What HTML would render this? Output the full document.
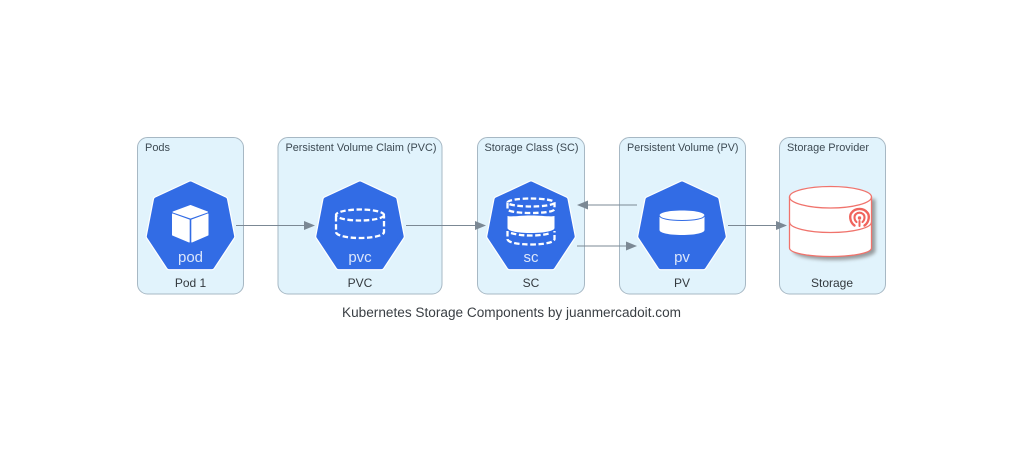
<!DOCTYPE html>
<html><head><meta charset="utf-8"><style>
html,body{margin:0;padding:0;background:#fff;width:1023px;height:454px;overflow:hidden}
svg{display:block}
text{font-family:"Liberation Sans",sans-serif}
.c{fill:#e1f3fc;stroke:#a7b8c4;stroke-width:1}
.cl{font-size:11.2px;fill:#3d4a53}
.nl{font-size:12px;fill:#33393e;text-anchor:middle}
.ko{fill:#fff;stroke:#fff;stroke-width:6.4;stroke-linejoin:round}
.k{fill:#326ce5;stroke:#326ce5;stroke-width:4;stroke-linejoin:round}
.kt{font-size:15px;fill:#dbe6fb;text-anchor:middle}
.e{stroke:#7b8894;stroke-width:1;fill:none}
.ah{fill:#7b8894}
.d{fill:none;stroke:#fff;stroke-width:2.3;stroke-dasharray:5.5 2.6}
</style></head><body>
<svg width="1023" height="454" viewBox="0 0 1023 454" xmlns="http://www.w3.org/2000/svg">
<defs>
<filter id="sh" x="-20%" y="-20%" width="150%" height="150%"><feGaussianBlur stdDeviation="1.8"/></filter>
<path id="hep" d="M0,-42 L34.500,-26 L41.700,11 L21.500,41.600 L-21.500,41.600 L-41.700,11 L-34.500,-26 Z"/>
</defs>

<rect class="c" x="137.5" y="137.5" width="106" height="156.5" rx="10"/>
<rect class="c" x="278" y="137.5" width="164" height="156.5" rx="10"/>
<rect class="c" x="477.5" y="137.5" width="107" height="156.5" rx="10"/>
<rect class="c" x="619.5" y="137.5" width="126" height="156.5" rx="10"/>
<rect class="c" x="779.5" y="137.5" width="106" height="156.5" rx="10"/>

<text class="cl" x="145" y="151" textLength="25" lengthAdjust="spacingAndGlyphs">Pods</text>
<text class="cl" x="285.5" y="151" textLength="151" lengthAdjust="spacingAndGlyphs">Persistent Volume Claim (PVC)</text>
<text class="cl" x="484.5" y="151" textLength="94" lengthAdjust="spacingAndGlyphs">Storage Class (SC)</text>
<text class="cl" x="627" y="151" textLength="111.500" lengthAdjust="spacingAndGlyphs">Persistent Volume (PV)</text>
<text class="cl" x="787" y="151" textLength="82" lengthAdjust="spacingAndGlyphs">Storage Provider</text>

<!-- edges -->
<line class="e" x1="236" y1="225.500" x2="306" y2="225.500"/><path class="ah" d="M304,221 L315,225.500 L304,230 Z"/>
<line class="e" x1="406" y1="225.500" x2="476" y2="225.500"/><path class="ah" d="M475,221 L486,225.500 L475,230 Z"/>
<line class="e" x1="577" y1="246" x2="628" y2="246"/><path class="ah" d="M626,241.500 L637,246 L626,250.500 Z"/>
<line class="e" x1="637" y1="205" x2="586" y2="205"/><path class="ah" d="M588,200.500 L577,205 L588,209.500 Z"/>
<line class="e" x1="728" y1="225.500" x2="778" y2="225.500"/><path class="ah" d="M776,221 L787,225.500 L776,230 Z"/>

<!-- pod -->
<g transform="translate(190.500,225.500)"><use href="#hep" class="ko"/><use href="#hep" class="k"/></g>
<path fill="#fff" stroke="#fff" stroke-width="1" stroke-linejoin="round" d="M190.500,205.500 L207.500,212 L190.500,218 L173,212 Z"/>
<path fill="#fff" stroke="#fff" stroke-width="1" stroke-linejoin="round" d="M172.500,214 L189.200,220 L189.200,242 L172.500,235 Z"/>
<path fill="#fff" stroke="#fff" stroke-width="1" stroke-linejoin="round" d="M208,214 L191.800,220 L191.800,242 L208,235 Z"/>
<text class="kt" x="190.500" y="262">pod</text>

<!-- pvc -->
<g transform="translate(360,225.500)"><use href="#hep" class="ko"/><use href="#hep" class="k"/></g>
<ellipse class="d" cx="360" cy="215" rx="24" ry="5.500"/>
<path class="d" d="M336,216 V232 C336,235.500 347,238 360,238 C373,238 384,235.500 384,232 V216"/>
<text class="kt" x="360" y="262">pvc</text>

<!-- sc -->
<g transform="translate(531,225.500)"><use href="#hep" class="ko"/><use href="#hep" class="k"/></g>
<ellipse class="d" cx="531" cy="202.500" rx="23.500" ry="4"/>
<path class="d" d="M507.500,203 V209 C507.500,211.500 518,213 531,213 C544,213 554.500,211.500 554.500,209 V203"/>
<path fill="#fff" d="M507.500,216 C512,217 520,215.500 531,215.500 C542,215.500 550,217 554.500,216 V228 C554.500,231 544,233 531,233 C518,233 507.500,231 507.500,228 Z"/>
<path class="d" d="M507.500,231 V239 C507.500,242.500 518,244.500 531,244.500 C544,244.500 554.500,242.500 554.500,239 V231"/>
<path class="d" d="M511,233 C516,234.500 522,235.500 531,235.500 C540,235.500 546,234.500 551,233"/>
<text class="kt" x="531" y="262">sc</text>

<!-- pv -->
<g transform="translate(682,225.500)"><use href="#hep" class="ko"/><use href="#hep" class="k"/></g>
<path fill="#fff" d="M659.500,215.500 C659.500,212.500 669,210.500 682,210.500 C695,210.500 704.500,212.500 704.500,215.500 V230 C704.500,233 695,235 682,235 C669,235 659.500,233 659.500,230 Z"/>
<path fill="none" stroke="#326ce5" stroke-width="1" d="M659.500,215.500 C659.500,218.500 669,220.500 682,220.500 C695,220.500 704.500,218.500 704.500,215.500"/>
<text class="kt" x="682" y="262">pv</text>

<!-- cylinder -->
<path d="M793,199 V251 C793,256 810,260 834,260 C858,260 875.500,256 875.500,251 V199 Z" fill="#777" opacity=".7" filter="url(#sh)"/>
<path fill="#fff" stroke="#f0736c" stroke-width="1.300" d="M789.500,197 C789.500,191 808,186.500 830.500,186.500 C853,186.500 871.500,191 871.500,197 V248 C871.500,253 853,256.500 830.500,256.500 C808,256.500 789.500,253 789.500,248 Z"/>
<path fill="none" stroke="#f0736c" stroke-width="1.300" d="M789.500,197 C789.500,203 808,208 830.500,208 C853,208 871.500,203 871.500,197"/>
<path fill="none" stroke="#f0736c" stroke-width="1.300" d="M789.500,222 C789.500,228 808,232.500 830.500,232.500 C853,232.500 871.500,228 871.500,222"/>
<g fill="none" stroke="#f0645d" stroke-linecap="round">
<path stroke-width="2.400" d="M854.500,225.500 C849.500,222 849.300,215 851.800,212.500 C855.500,207.800 863.500,207.800 867.200,212.500 C869.700,215 869.500,222 864.500,225.500"/>
<path stroke-width="2.100" d="M856.500,222 C853.800,219.500 854,215.500 856,214 C858,212.300 861,212.300 863,214 C865,215.500 865.200,219.500 862.500,222"/>
<path stroke-width="2" d="M859.500,226 V221"/>
<circle cx="859.500" cy="218" r="1.700" fill="#f0645d" stroke="none"/>
</g>

<text class="nl" x="190.500" y="287">Pod 1</text>
<text class="nl" x="360" y="287">PVC</text>
<text class="nl" x="531" y="287">SC</text>
<text class="nl" x="682" y="287">PV</text>
<text class="nl" x="832" y="287">Storage</text>
<text x="511.500" y="317" font-size="13.500" fill="#3a3f44" text-anchor="middle" textLength="339" lengthAdjust="spacingAndGlyphs">Kubernetes Storage Components by juanmercadoit.com</text>
</svg>
</body></html>
